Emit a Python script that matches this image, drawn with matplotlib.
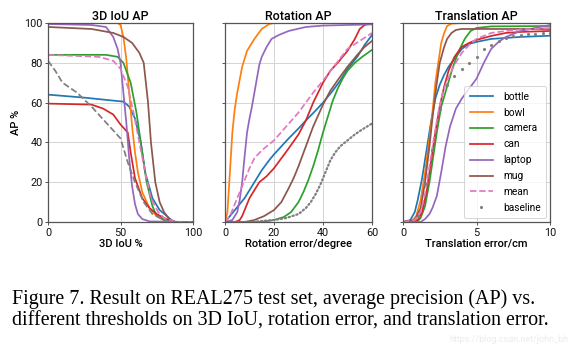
import matplotlib
matplotlib.use("Agg")
import matplotlib.pyplot as plt

plt.rcParams['font.family'] = ['Roboto', 'DejaVu Sans']

categories = ["bottle", "bowl", "camera", "can", "laptop", "mug"]
colors = ["#1f77b4", "#ff7f0e", "#2ca02c", "#d62728", "#9467bd", "#8c564b"]
mean_color = "#e377c2"
base_color = "#7f7f7f"

# ---- 3D IoU AP (x: IoU %, y: AP %) ----
iou = {
    "bottle": ([0, 25, 45, 52, 56, 60, 64, 67, 72, 77, 82, 85, 88, 100],
               [64, 62.5, 61, 60.5, 58, 52, 40, 25, 12, 6, 3, 1, 0, 0]),
    "bowl": ([0, 48, 50, 52, 54, 56, 58, 60, 62, 65, 70, 75, 80, 85, 100],
             [100, 100, 99, 93, 82, 65, 48, 35, 25, 15, 7, 3, 1, 0, 0]),
    "camera": ([0, 40, 48, 52, 57, 61, 64, 68, 72, 75, 80, 85, 100],
               [84, 84, 83, 80, 70, 55, 40, 20, 8, 3, 1, 0, 0]),
    "can": ([0, 30, 38, 45, 50, 55, 57, 60, 65, 70, 75, 80, 88, 100],
            [59.5, 59, 57, 54, 49, 45, 35, 22, 12, 7, 4, 2, 0, 0]),
    "laptop": ([0, 30, 40, 45, 48, 50, 52, 54, 56, 58, 60, 62, 65, 70, 100],
               [99.5, 99, 98, 93, 87, 80, 65, 50, 32, 18, 9, 4, 1.5, 0.3, 0]),
    "mug": ([0, 30, 45, 52, 58, 63, 66, 69, 71, 74, 77, 80, 83, 87, 100],
            [98, 97, 95, 93, 90, 85, 80, 60, 40, 20, 10, 5, 2, 0, 0]),
}
iou_mean = ([0, 35, 45, 50, 55, 59, 63, 67, 71, 76, 80, 88, 100],
            [84, 83, 81, 77, 68, 55, 40, 25, 12, 5, 2, 0, 0])
iou_base = ([0, 5, 10, 20, 30, 40, 50, 55, 60, 66, 72, 80, 85, 100],
            [81, 76, 70, 65, 58, 50, 42, 30, 20, 10, 4, 1, 0, 0])

# ---- Rotation AP (x: degrees) ----
rot = {
    "bottle": ([0, 2, 4, 6, 8, 10, 12, 15, 18, 20, 23, 26, 30, 33, 37, 40, 44, 47, 50, 54, 57, 60],
               [0, 3, 6, 9, 12, 16, 20, 26, 31, 34, 38, 42, 47, 51, 56, 60, 66, 71, 77, 83, 89, 94]),
    "bowl": ([0, 1, 2, 3, 4, 5, 7, 9, 12, 15, 18, 20, 60],
             [0, 5, 25, 45, 57, 65, 78, 86, 92, 97, 99.5, 100, 100]),
    "camera": ([0, 15, 20, 24, 27, 30, 32, 34, 36, 38, 40, 42, 44, 46, 48, 50, 53, 56, 60],
               [0, 0, 1, 2.5, 5, 10, 15, 21, 28, 36, 45, 53, 61, 67, 72, 76, 80, 83, 86.5]),
    "can": ([0, 4, 6, 7, 8, 10, 12, 14, 17, 20, 23, 26, 30, 33, 36, 38, 40, 43, 46, 50, 53, 55, 57, 60],
            [0, 0, 1, 3, 6, 12, 16, 20, 23, 27, 32, 37, 44, 51, 60, 65, 70, 76, 80, 86, 92, 97, 99, 100]),
    "laptop": ([0, 3, 5, 6, 7, 8, 9, 10, 11, 12, 13, 14, 15, 17, 19, 22, 26, 33, 40, 60],
               [0, 1, 5, 11, 20, 33, 45, 52, 58, 65, 72, 79, 83, 88, 92, 94, 96, 98, 98.7, 99.3]),
    "mug": ([0, 8, 12, 16, 20, 23, 26, 28, 30, 33, 36, 40, 43, 47, 50, 54, 57, 60],
            [0, 0, 1, 3, 6, 10, 17, 22, 28, 38, 48, 59, 66, 73, 78, 84, 88, 91]),
}
rot_mean = ([0, 2, 4, 6, 8, 10, 12, 15, 18, 20, 25, 30, 33, 36, 40, 45, 50, 55, 60],
            [0, 3, 9, 15, 21, 27, 32, 36, 39, 41, 48, 55, 60, 65, 71, 79, 87, 91, 95])
rot_base = ([0, 10, 15, 20, 25, 30, 33, 35, 37, 39, 41, 43, 45, 47, 50, 53, 56, 60],
            [0, 0, 0.5, 1, 2, 4, 7, 10, 14, 19, 25, 31, 35, 38, 41, 44, 46.5, 49.5])

# ---- Translation AP (x: cm) ----
trans = {
    "bottle": ([0, 0.5, 0.8, 1.0, 1.3, 1.6, 1.9, 2.2, 2.5, 2.8, 3.1, 3.5, 4.0, 4.5, 5, 6, 7, 8, 10],
               [0, 1, 5, 11, 22, 36, 50, 62, 69, 74, 78, 82, 87, 89.5, 90.5, 92, 92.5, 93, 93.6]),
    "bowl": ([0, 0.6, 0.9, 1.2, 1.5, 1.8, 2.0, 2.2, 2.4, 2.6, 2.8, 3.0, 3.3, 4, 10],
             [0, 0.5, 3, 11, 25, 42, 55, 70, 80, 90, 95, 98.5, 99.7, 100, 100]),
    "camera": ([0, 1.0, 1.2, 1.5, 1.8, 2.0, 2.3, 2.6, 3.0, 3.4, 3.8, 4.2, 4.6, 5.0, 6, 10],
               [0, 0.5, 2, 8, 20, 30, 45, 58, 68, 78, 86, 92, 96, 97.5, 98.3, 98.5]),
    "can": ([0, 1.0, 1.3, 1.6, 1.9, 2.2, 2.5, 2.8, 3.1, 3.5, 4.0, 4.5, 5, 6, 7, 8, 10],
            [0, 1, 5, 15, 30, 45, 58, 68, 76, 83, 88, 90, 91.5, 93.5, 95, 95.5, 96]),
    "laptop": ([0, 1.2, 1.5, 1.8, 2.0, 2.3, 2.6, 2.9, 3.2, 3.6, 4.0, 4.5, 5.0, 5.5, 6.0, 6.5, 7, 8, 9, 10],
               [0, 0, 1.5, 4, 7, 13, 25, 38, 48, 57, 62, 67, 72, 80, 87, 90.5, 93, 96, 97.5, 99]),
    "mug": ([0, 0.8, 1.2, 1.5, 1.8, 2.0, 2.3, 2.5, 2.8, 3.0, 3.3, 3.6, 4, 10],
            [0, 1, 7, 20, 38, 52, 70, 80, 88, 92, 95, 96.5, 97, 97]),
}
trans_mean = ([0, 0.8, 1.2, 1.5, 1.8, 2.1, 2.4, 2.7, 3.0, 3.5, 4, 4.5, 5, 6, 7, 8, 10],
              [0, 1, 5, 14, 28, 42, 55, 65, 71, 79, 85, 89, 92, 95, 96, 96.7, 97.5])
trans_base = ([0, 0.5, 1.0, 1.5, 2.0, 2.5, 3.0, 3.5, 4.0, 4.5, 5.0, 5.5, 6.0, 6.5, 7.0, 7.5, 8.0, 8.5, 9.0, 9.5, 10.0],
              [0, 0, 3, 19, 36, 57, 69, 73.5, 77, 80, 83, 87, 89, 91, 92.5, 93.5, 94, 94.3, 94.5, 94.8, 95])

fig = plt.figure(figsize=(5.73, 3.45), dpi=100)
W, H = 573, 345


def box(x0, x1, y0, y1):
    return [x0 / W, 1 - y1 / H, (x1 - x0) / W, (y1 - y0) / H]


ax1 = fig.add_axes(box(48, 193, 23, 222))
ax2 = fig.add_axes(box(225, 372, 23, 222))
ax3 = fig.add_axes(box(403, 550, 23, 222))


def style(ax, xlim, xticks, title, xlabel):
    ax.set_xlim(*xlim)
    ax.set_ylim(0, 100)
    ax.set_xticks(xticks)
    ax.set_yticks([0, 20, 40, 60, 80, 100])
    ax.grid(True, color='#d4d4d4', linewidth=0.7)
    ax.set_axisbelow(True)
    for s in ax.spines.values():
        s.set_color('#555555')
        s.set_linewidth(0.9)
    ax.tick_params(length=2.5, width=0.7, color='#555555', pad=1.5,
                   labelsize=7.8, labelcolor='#111111')
    ax.set_title(title, fontsize=9, fontweight='medium', pad=2.5)
    ax.set_xlabel(xlabel, fontsize=8, fontweight='medium', labelpad=1)


lw = 1.25
for name, c in zip(categories, colors):
    ax1.plot(*iou[name], color=c, lw=lw, label=name)
    ax2.plot(*rot[name], color=c, lw=lw, label=name)
    ax3.plot(*trans[name], color=c, lw=lw, label=name)

ax1.plot(*iou_mean, color=mean_color, lw=lw, ls='--', label='mean')
ax2.plot(*rot_mean, color=mean_color, lw=lw, ls='--', label='mean')
ax3.plot(*trans_mean, color=mean_color, lw=lw, ls='--', label='mean')

ax1.plot(*iou_base, color=base_color, lw=lw, ls='--', label='baseline')
ax2.plot(*rot_base, color=base_color, lw=1.6, ls=(0, (0.6, 1.2)),
         dash_capstyle='round', label='baseline')
ax3.plot(*trans_base, color=base_color, ls='none', marker='.', ms=2.5,
         label='baseline')

style(ax1, (0, 100), [0, 50, 100], '3D IoU AP', '3D IoU %')
style(ax2, (0, 60), [0, 20, 40, 60], 'Rotation AP', 'Rotation error/degree')
style(ax3, (0, 10), [0, 5, 10], 'Translation AP', 'Translation error/cm')
ax1.set_ylabel('AP %', fontsize=8, fontweight='medium', labelpad=2)
ax2.tick_params(labelleft=False)
ax3.tick_params(labelleft=False)

leg = ax3.legend(loc='lower right', fontsize=7.3, frameon=True,
                 handlelength=2.3, borderpad=0.55, labelspacing=0.58,
                 handletextpad=1.0, borderaxespad=0.35)
leg.get_frame().set_edgecolor('#cccccc')
leg.get_frame().set_linewidth(0.7)

caption = ("Figure 7. Result on REAL275 test set, average precision (AP) vs.\n"
           "different thresholds on 3D IoU, rotation error, and translation error.")
fig.text(12 / W, 1 - 289 / H, caption, family=['Liberation Serif', 'DejaVu Serif'],
         fontsize=14.4, va='top', ha='left', linespacing=1.2)
fig.text(568 / W, 1 - 339.5 / H, "https://blog.csdn.net/john_bh", fontsize=6.5,
         color='#ececec', ha='right', va='center')

fig.savefig('out.png', dpi=100)
